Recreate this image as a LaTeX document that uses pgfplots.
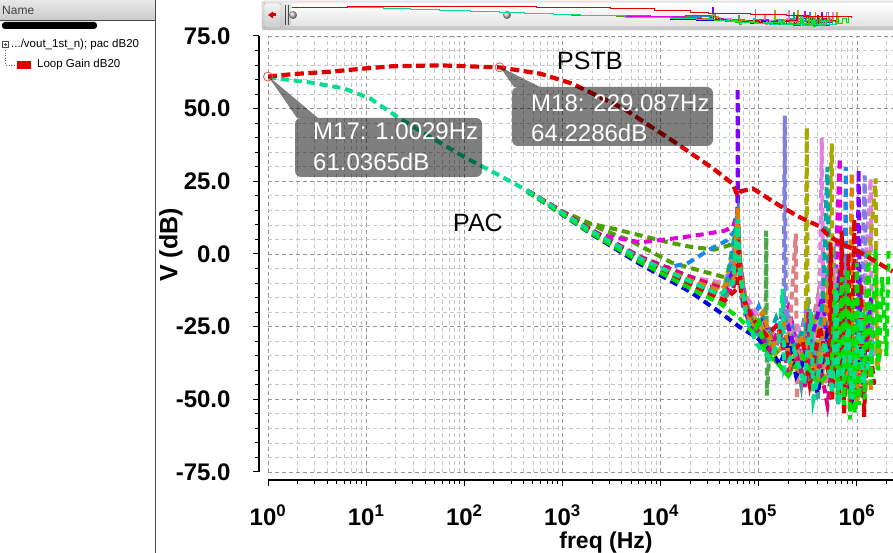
\documentclass[border=0pt]{standalone}
\usepackage{fontspec}
\setmainfont{Liberation Sans}
\usepackage{pgfplots}
\usepackage{pgfplotstable}
\pgfplotsset{compat=1.18}

\definecolor{cSpring}{HTML}{00E08C}
\definecolor{cPink}{HTML}{E0007F}
\definecolor{cOrange}{HTML}{E08000}
\definecolor{cGreen}{HTML}{00E000}
\definecolor{cBlue}{HTML}{0000E0}
\definecolor{cRed}{HTML}{E00000}
\definecolor{cTeal}{HTML}{00A8A8}
\definecolor{cPurple}{HTML}{8000FF}
\definecolor{cOlive}{HTML}{A8A800}
\definecolor{cLav}{HTML}{8080E0}
\definecolor{cOrchid}{HTML}{E080E0}
\definecolor{cSalmon}{HTML}{E08080}
\definecolor{cMedGreen}{HTML}{4CA64C}
\definecolor{cTealB}{HTML}{40A0A0}
\definecolor{cSky}{HTML}{1E88E5}
\definecolor{cMag}{HTML}{E000E0}
\definecolor{cOlGreen}{HTML}{4CA000}
\definecolor{cMarker}{HTML}{F05050}

% PSTB loop gain
\pgfplotstableread{
f y
1 61.04
1.8 61.9
4.3 62.7
8.7 63.7
18.6 64.6
56 64.9
229 64.2
600 62
1260 58.6
4200 50
13200 39
34000 29.5
54000 24.2
61000 20
66000 21.6
87000 22.5
120000 19.5
162000 16.7
263000 12.6
417000 9.5
490000 7
660000 3.8
1e6 1.2
2.3e6 -6
}\tPSTB

\pgfplotstableread{
f y
1 60.8
2.7 59
5.9 57
11 53.5
22 46.6
48 39.7
107 32.8
229 27
437 21.8
933 14.9
1900 8.2
6200 -1.5
20000 -9.5
40000 -14
55000 -10
61000 12
64000 -6
75000 -22
95000 -31
130000 -36
160000 -30
175000 -12
182000 -40
230000 -33
290000 -45
340000 -20
360000 -50
470000 -30
560000 -48
620000 -10
650000 -52
820000 -25
880000 -50
1.1e6 -20
1.15e6 -45
1.5e6 -30
}\tMain

\pgfplotstableread{
f y
437 21.8
933 15.2
1900 8.6
6200 -1
20000 -7.8
40000 -11.5
55000 -13
61000 6
65000 -10
80000 -22
100000 -27
130000 -33
160000 -26
200000 -40
250000 -36
300000 -46
320000 -20
340000 -44
420000 -38
500000 -52
600000 -30
750000 -48
900000 -35
1.2e6 -50
}\tPink

\pgfplotstableread{
f y
437 21.8
933 14.6
1900 7.8
6200 -2
20000 -9
40000 -12.5
57000 -8
61000 16
63000 2
68000 -15
85000 -25
110000 -20
140000 -32
180000 -24
210000 -38
280000 -28
400000 -42
500000 -15
600000 -40
700000 -12
760000 -45
850000 -20
885000 28
900000 -30
1e6 -45
1.2e6 -18
1.4e6 -48
}\tOrange

\pgfplotstableread{
f y
437 21.5
933 14.3
1900 7.4
6200 -2.8
20000 -11.8
40000 -17
63000 -22
90000 -27.5
100000 -22
115000 -34
150000 -37
200000 -42
280000 -35
400000 -45
550000 -40
600000 -12
640000 -50
700000 -8
740000 -52
800000 -5
850000 -57
900000 -15
950000 -55
1e6 -3
1.05e6 -52
1.15e6 -20
1.2e6 -50
1.3e6 0
1.4e6 -45
1.55e6 2
1.65e6 -40
1.8e6 -8
2e6 -35
2.1e6 1
}\tGreen

\pgfplotstableread{
f y
437 21.5
933 14.2
1900 7.2
6200 -3.5
20000 -13
40000 -20
63000 -25
95000 -28.7
130000 -33
165000 -38
200000 -30
240000 -42
300000 -36
400000 -48
500000 -25
560000 -45
700000 -35
900000 -50
1.1e6 -30
}\tBlue

\pgfplotstableread{
f y
437 21.8
933 15
1900 8.4
6200 -1.8
20000 -10.5
45000 -16
60000 -12
62000 5
66000 -14
85000 -22
120000 -28
160000 -24
200000 -35
280000 -30
330000 -45
420000 -25
520000 -42
540000 4
560000 -50
620000 -20
660000 -48
700000 8
740000 -55
820000 0
860000 -52
940000 12
980000 -50
1.1e6 -10
1.18e6 -56
1.3e6 -25
1.5e6 -45
}\tRedPac

\pgfplotstableread{
f y
437 21.8
933 14.8
1900 8
6200 -1.6
20000 -9.8
45000 -14
61000 13
66000 -10
75000 -18
90000 -25
120000 -30
150000 -22
200000 -35
300000 -25
380000 -40
450000 -15
500000 30
520000 -30
600000 -20
700000 -45
800000 -10
900000 -40
1e6 -25
1.2e6 -48
}\tTeal

\pgfplotstableread{
f y
437 21.8
933 14.9
1900 8.1
6200 -2
20000 -10.2
45000 -12
58000 -4
60500 2
61000 57
61500 1
63000 -5
70000 -18
85000 -26
110000 -22
140000 -30
200000 -25
260000 -38
350000 -28
450000 -14
520000 -40
650000 -10
800000 -30
1e6 -35
1.04e6 29
1.07e6 -20
1.2e6 -35
1.4e6 -15
}\tPurple

\pgfplotstableread{
f y
437 21.8
933 15
1900 8.3
6200 -1.2
20000 -8.6
45000 -11
61000 10
65000 -8
80000 -20
110000 -25
150000 -35
200000 -28
250000 -40
300000 -30
308000 43.5
316000 -35
380000 -20
440000 -45
500000 -10
554000 38
570000 -40
650000 -5
750000 -48
850000 -15
1e6 -52
1.2e6 -20
1.55e6 26
1.6e6 -40
1.8e6 -30
}\tOlive

\pgfplotstableread{
f y
437 21.8
933 14.7
1900 7.9
6200 -2.2
20000 -9.2
45000 -13
61000 8
66000 -15
90000 -25
130000 -30
170000 -28
180000 -18
184000 47.6
188000 -15
200000 -25
240000 -35
300000 -20
400000 -40
500000 -10
600000 -30
750000 -5
900000 -35
1.1e6 -20
1.2e6 27
1.25e6 -30
1.45e6 -25
}\tLav

\pgfplotstableread{
f y
437 21.8
933 15.1
1900 8.5
6200 -0.8
20000 -8
45000 -10
61000 5
68000 -12
100000 -22
150000 -30
250000 -25
350000 -38
420000 -10
438000 40
455000 -20
520000 -35
600000 -5
700000 -40
850000 -15
1e6 -42
1.2e6 -10
1.38e6 26
1.42e6 -30
1.6e6 -38
}\tOrchid

\pgfplotstableread{
f y
437 21.8
933 14.5
1900 7.6
6200 -2.5
20000 -11
45000 -15
61000 3
70000 -18
100000 -25
150000 -28
200000 -33
238000 7
245000 -50
255000 -30
300000 -35
400000 -15
480000 -45
600000 -20
800000 -48
1e6 -30
1.3e6 -45
}\tSalmon

\pgfplotstableread{
f y
437 21.8
933 14.4
1900 7.5
6200 -2.6
20000 -11.5
45000 -17
61000 0
70000 -20
100000 -26
117000 -28
119000 8
121000 -48.7
130000 -30
180000 -30
250000 -40
350000 -28
500000 -45
700000 -30
1e6 -40
}\tMedGreen

\pgfplotstableread{
f y
437 21.8
933 14.6
1900 7.7
6200 -2.3
20000 -10.8
45000 -15.5
61000 6
68000 -16
90000 -27
150000 -32
200000 -20
270000 -45
320000 -15
400000 -50
450000 -10
580000 0
640000 -52
760000 -10
850000 -45
1e6 -15
1.1e6 -50
1.3e6 -20
}\tTealB

\pgfplotstableread{
f y
437 21.8
933 14.8
1900 8
6200 -2.5
10000 -5
18600 -3.3
34000 2.2
47000 4.6
57000 8
61000 14
64000 -2
70000 -15
80000 -25
100000 -18
140000 -30
200000 -22
300000 -35
400000 -15
500000 -30
650000 -10
740000 -35
769000 30
790000 -25
900000 -40
1.1e6 -15
1.3e6 -30
}\tSky

\pgfplotstableread{
f y
437 21.8
933 15.2
1900 8.6
2500 6.5
6200 4
15000 5.5
30000 7
45000 8
55000 9.5
61000 15
63000 0
70000 -12
90000 -22
130000 -28
200000 -18
260000 -35
350000 -22
500000 -38
600000 -10
668000 33
690000 -30
800000 -20
950000 -45
1.2e6 -25
}\tMag

\pgfplotstableread{
f y
437 21.8
933 15
1300 13
1900 10.5
3500 8.5
6200 6.4
12000 4
20000 2.5
35000 1.5
50000 3
58000 6
61000 12
65000 -3
72000 -15
85000 -24
110000 -32
150000 -37
200000 -42
260000 -33
350000 -45
}\tOlgA

\pgfplotstableread{
f y
437 21.8
933 14.9
1500 12
2500 8.5
4900 4.6
13000 -3
25000 -5.7
45000 -8
56000 -5
61000 10
65000 -8
80000 -20
100000 -28
140000 -35
200000 -30
300000 -42
}\tOlgB

\pgfplotsset{
  pac/.style={line width=4pt, dash pattern=on 8pt off 5pt, line cap=butt, no marks},
  mini/.style={const plot, line width=1pt, no marks, solid},
}

\begin{document}
\begin{tikzpicture}[x=1pt,y=1pt]
\path[use as bounding box] (0,0) rectangle (893,553);
\fill[white] (0,0) rectangle (893,553);

% ---------- left panel ----------
\shade[top color=gray!18, bottom color=gray!42] (0,533) rectangle (155,553);
\draw[gray!55!black, line width=0.6pt] (0,533) -- (155,533);
\node[anchor=west, font=\fontsize{12}{12}\selectfont, text=black!75, inner sep=0pt] at (2,543) {Name};
\fill[black, rounded corners=3pt] (2,524) rectangle (97,531);
\draw[black!70, line width=0.5pt] (2.5,505.5) rectangle (8.5,511.5);
\draw[black!70, line width=0.5pt] (3.8,508.5) -- (7.2,508.5) (5.5,506.8) -- (5.5,510.2);
\begin{scope}
\clip (0,0) rectangle (154,553);
\node[anchor=west, font=\fontsize{11.5}{12}\selectfont, inner sep=0pt] at (11,508.5) {.../vout\_1st\_n); pac dB20};
\end{scope}
\draw[black!60, dotted, line width=0.6pt] (5.5,505.5) -- (5.5,488) -- (15,488);
\fill[red!90!black] (17,484) rectangle (31,492);
\node[anchor=west, font=\fontsize{11.5}{12}\selectfont, inner sep=0pt] at (37,488) {Loop Gain dB20};
\draw[gray!60!black, line width=0.8pt] (155.5,0) -- (155.5,553);

% ---------- top scroll bar ----------
\shade[top color=gray!15, bottom color=gray!45, rounded corners=3pt, draw=gray!70] (262,523) rectangle (900,552);
\shade[top color=gray!10, bottom color=gray!40, rounded corners=2pt, draw=gray!75] (264,525) rectangle (281,550);
\fill[red!85!black] (268,538) -- (273,541.5) -- (273,534.5) -- cycle;
\fill[red!85!black] (273,536.5) rectangle (276,539.5);
\draw[black!70, line width=0.8pt] (285,528) -- (285,548) (288,528) -- (288,548);
\shade[top color=white, bottom color=gray!22] (291,527) rectangle (900,549);
\shade[ball color=gray!50] (507,538) circle (4pt);
\shade[ball color=gray!50] (293,538) circle (4pt);

% mini overview
\begin{axis}[at={(292pt,524pt)}, anchor=south west, scale only axis,
  width=560pt, height=24pt, xmode=log, xmin=1, xmax=2.33e6,
  ymin=-75, ymax=75, hide axis]
\addplot[mini, cOlGreen] table {\tOlgB};
\addplot[mini, cOlGreen] table {\tOlgA};
\addplot[mini, cMag] table {\tMag};
\addplot[mini, cSky] table {\tSky};
\addplot[mini, cTealB] table {\tTealB};
\addplot[mini, cMedGreen] table {\tMedGreen};
\addplot[mini, cSalmon] table {\tSalmon};
\addplot[mini, cOrchid] table {\tOrchid};
\addplot[mini, cLav] table {\tLav};
\addplot[mini, cOlive] table {\tOlive};
\addplot[mini, cPurple] table {\tPurple};
\addplot[mini, cTeal] table {\tTeal};
\addplot[mini, cBlue] table {\tBlue};
\addplot[mini, cPink] table {\tPink};
\addplot[mini, cOrange] table {\tOrange};
\addplot[mini, cRed] table {\tRedPac};
\addplot[mini, cGreen] table {\tGreen};
\addplot[mini, cSpring] table {\tMain};
\addplot[mini, cRed] table {\tPSTB};
\end{axis}

% ---------- main axis ----------
\begin{axis}[
  at={(268pt,81pt)}, anchor=south west,
  scale only axis, width=625pt, height=436pt,
  xmode=log, xmin=1, xmax=2.33e6,
  ymin=-75, ymax=75,
  axis x line=bottom, axis y line=left,
  axis x line shift=8pt, axis y line shift=9pt,
  axis line style={-, line width=1.2pt, black},
  every outer x axis line/.append style={-},
  every outer y axis line/.append style={-},
  xtick={1,10,100,1000,10000,100000,1000000},
  xticklabels={10\textsuperscript{0},10\textsuperscript{1},10\textsuperscript{2},10\textsuperscript{3},10\textsuperscript{4},10\textsuperscript{5},10\textsuperscript{6}},
  minor xtick={2,3,4,5,6,7,8,9,20,30,40,50,60,70,80,90,200,300,400,500,600,700,800,900,2000,3000,4000,5000,6000,7000,8000,9000,20000,30000,40000,50000,60000,70000,80000,90000,200000,300000,400000,500000,600000,700000,800000,900000,2000000},
  ytick={-75,-50,-25,0,25,50,75},
  yticklabels={-75.0,-50.0,-25.0,0.0,25.0,50.0,75.0},
  minor ytick={-70,-65,-60,-55,-45,-40,-35,-30,-20,-15,-10,-5,5,10,15,20,30,35,40,45,55,60,65,70},
  tick align=outside,
  major tick length=6pt, minor tick length=4pt,
  tick style={black, line width=1pt},
  grid=both,
  major grid style={dash pattern=on 4pt off 3pt, color=black!42, line width=0.8pt},
  minor grid style={dash pattern=on 4pt off 3pt, color=black!22, line width=0.8pt},
  xticklabel style={font=\fontsize{24}{24}\selectfont\bfseries, yshift=-15pt},
  yticklabel style={font=\fontsize{24}{24}\selectfont\bfseries, xshift=-19pt},
  clip mode=individual,
]
\addplot[pac, cOlGreen] table {\tOlgB};
\addplot[pac, cOlGreen] table {\tOlgA};
\addplot[pac, cMag] table {\tMag};
\addplot[pac, cSky] table {\tSky};
\addplot[pac, cTealB] table {\tTealB};
\addplot[pac, cMedGreen] table {\tMedGreen};
\addplot[pac, cSalmon] table {\tSalmon};
\addplot[pac, cOrchid] table {\tOrchid};
\addplot[pac, cLav] table {\tLav};
\addplot[pac, cOlive] table {\tOlive};
\addplot[pac, cPurple] table {\tPurple};
\addplot[pac, cTeal] table {\tTeal};
\addplot[pac, cBlue] table {\tBlue};
\addplot[pac, cPink] table {\tPink};
\addplot[pac, cOrange] table {\tOrange};
\addplot[pac, cRed] table {\tRedPac};
\addplot[pac, cGreen] table {\tGreen};
\addplot[pac, cSpring] table {\tMain};
\addplot[line width=4.2pt, dash pattern=on 9pt off 4.5pt, line cap=butt, no marks, cRed] table {\tPSTB};
\addplot[clip=false, only marks, mark=o, mark size=4.5pt, mark options={draw=cMarker, line width=0.8pt}] coordinates {(1,61.0365) (229.087,64.2286)};
\end{axis}

% ---------- marker callouts ----------
\fill[black, opacity=0.5] (268,477) -- (297,435) -- (318,435) -- cycle;
\fill[black, opacity=0.5, rounded corners=6pt] (295,435) rectangle (482,376);
\node[anchor=base west, inner sep=0pt, text=white, font=\fontsize{24}{24}\selectfont] at (313,413) {M17: 1.0029Hz};
\node[anchor=base west, inner sep=0pt, text=white, font=\fontsize{24}{24}\selectfont] at (313,382) {61.0365dB};

\fill[black, opacity=0.5] (500,486) -- (514,466) -- (540,466) -- cycle;
\fill[black, opacity=0.5, rounded corners=6pt] (512,466) rectangle (713,407);
\node[anchor=base west, inner sep=0pt, text=white, font=\fontsize{24}{24}\selectfont] at (531,441) {M18: 229.087Hz};
\node[anchor=base west, inner sep=0pt, text=white, font=\fontsize{24}{24}\selectfont] at (531,411) {64.2286dB};

% ---------- labels ----------
\node[anchor=base west, inner sep=0pt, font=\fontsize{25}{25}\selectfont] at (557,483) {PSTB};
\node[anchor=base west, inner sep=0pt, font=\fontsize{25}{25}\selectfont] at (453,321) {PAC};
\node[rotate=90, inner sep=0pt, font=\fontsize{25}{25}\selectfont\bfseries] at (171,308) {V (dB)};
\node[anchor=base, inner sep=0pt, font=\fontsize{23}{23}\selectfont\bfseries] at (606,4) {freq (Hz)};
\end{tikzpicture}
\end{document}
